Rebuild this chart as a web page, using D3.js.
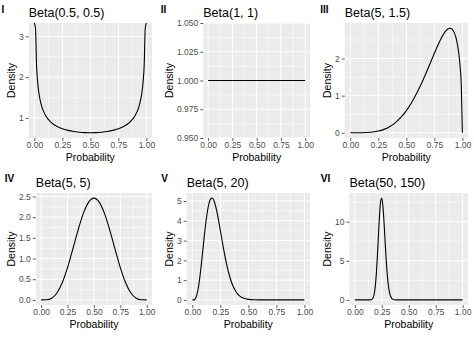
<!DOCTYPE html>
<html><head><meta charset="utf-8">
<script src="https://cdn.jsdelivr.net/npm/d3@7"></script>
<style>
html,body{margin:0;padding:0;background:#fff;}
svg{display:block;font-family:"Liberation Sans",Arial,sans-serif;}
</style></head>
<body>
<svg id="chart" width="474" height="338"></svg>
<script>
// ---------- data ----------
const romanLabels = ["I","II","III","IV","V","VI"];
const panelTitles = ["Beta(0.5, 0.5)","Beta(1, 1)","Beta(5, 1.5)","Beta(5, 5)","Beta(5, 20)","Beta(50, 150)"];
const xTicks = [0, 0.25, 0.5, 0.75, 1];

const xI = [0,0.01,0.02,0.03,0.04,0.05,0.07,0.1,0.15,0.2,0.25,0.3,0.35,0.4,0.45,0.5,0.55,0.6,0.65,0.7,0.75,0.8,0.85,0.9,0.93,0.95,0.96,0.97,0.98,0.99,1];
const yI = [Infinity,3.199,2.274,1.866,1.624,1.461,1.248,1.061,0.892,0.796,0.735,0.695,0.667,0.650,0.640,0.637,0.640,0.650,0.667,0.695,0.735,0.796,0.892,1.061,1.248,1.461,1.624,1.866,2.274,3.199,Infinity];
const yTicksI = [1,2,3];

const xII = [0,0.25,0.5,0.75,1];
const yII = [1,1,1,1,1];
const yTicksII = [0.95,0.975,1,1.025,1.05];

const xIII = [0,0.05,0.1,0.15,0.2,0.25,0.3,0.35,0.4,0.45,0.5,0.55,0.6,0.65,0.7,0.75,0.8,0.85,0.86,0.87,0.88,0.89,0.9,0.91,0.92,0.93,0.94,0.95,0.96,0.97,0.98,0.99,1];
const yIII = [0,0.0001,0.0013,0.0063,0.0194,0.0458,0.0917,0.1638,0.2684,0.4116,0.5982,0.8308,1.1094,1.4294,1.7800,2.1413,2.4793,2.7364,2.7703,2.7958,2.8118,2.8166,2.8082,2.7845,2.7426,2.6788,2.5885,2.4652,2.2992,2.0754,1.7655,1.3002,0];
const yTicksIII = [0,1,2];

const xIV = [0,0.05,0.1,0.15,0.2,0.25,0.3,0.35,0.4,0.45,0.5,0.55,0.6,0.65,0.7,0.75,0.8,0.85,0.9,0.95,1];
const yIV = [0,0.0032,0.0413,0.1665,0.4129,0.7787,1.2252,1.6876,2.0902,2.3639,2.4609,2.3639,2.0902,1.6876,1.2252,0.7787,0.4129,0.1665,0.0413,0.0032,0];
const yTicksIV = [0,0.5,1,1.5,2,2.5];

const xV = [0,0.01,0.02,0.03,0.04,0.05,0.06,0.07,0.08,0.09,0.1,0.11,0.12,0.13,0.14,0.15,0.16,0.17,0.18,0.19,0.2,0.22,0.24,0.26,0.28,0.3,0.32,0.34,0.36,0.38,0.4,0.43,0.46,0.5,0.55,0.6,0.7,0.8,0.9,1];
const yV = [0,0.0018,0.0232,0.0965,0.2505,0.5012,0.8501,1.2852,1.7853,2.3235,2.8709,3.3991,3.8841,4.3057,4.6494,4.9061,5.0722,5.1485,5.1399,5.0541,4.9005,4.4350,3.8347,3.1822,2.5430,1.9623,1.4645,1.0584,0.7414,0.5035,0.3315,0.1671,0.0783,0.0253,0.0050,0.0008,0,0,0,0];
const yTicksV = [0,1,2,3,4,5];

const xVI = [0,0.1,0.13,0.14,0.15,0.16,0.17,0.18,0.19,0.2,0.21,0.22,0.23,0.24,0.25,0.26,0.27,0.28,0.29,0.3,0.31,0.32,0.33,0.34,0.35,0.36,0.37,0.38,0.4,0.5,0.6,0.7,0.8,0.9,1];
const yVI = [0,0,0.0006,0.0043,0.0220,0.0892,0.2921,0.7899,1.7954,3.4817,5.8365,8.5464,11.033,12.662,13.005,12.027,10.066,7.660,5.3205,3.3844,1.9778,1.0645,0.5287,0.2429,0.1034,0.0408,0.0149,0.0051,0,0,0,0,0,0,0];
const yTicksVI = [0,5,10];

const panels = [
  {x:xI, y:yI, ticks:yTicksI, fmt:d3.format("d")},
  {x:xII, y:yII, ticks:yTicksII, fmt:d3.format(".3f"), fixed:[0.95,1.05]},
  {x:xIII, y:yIII, ticks:yTicksIII, fmt:d3.format("d")},
  {x:xIV, y:yIV, ticks:yTicksIV, fmt:d3.format(".1f")},
  {x:xV, y:yV, ticks:yTicksV, fmt:d3.format("d")},
  {x:xVI, y:yVI, ticks:yTicksVI, fmt:d3.format("d")}
];

// ---------- layout ----------
const svg = d3.select("#chart");
const cellW = 158;
const rows = [
  {cy:0,   top:23,  bottom:138, roman:12.5, title:16.5, tick:148, axTitle:160.5},
  {cy:169, top:193, bottom:305, roman:182, title:186.5, tick:315, axTitle:328}
];
const tickFont = 8.5, tickCol = "#4d4d4d";

panels.forEach((p, i) => {
  const col = i % 3, r = rows[Math.floor(i / 3)];
  const cx = col * cellW;
  const g = svg.append("g");

  // measure widest y tick label
  const tmp = g.append("g").attr("font-size", tickFont);
  let maxW = 0;
  p.ticks.forEach(t => {
    const tt = tmp.append("text").text(p.fmt(t));
    maxW = Math.max(maxW, tt.node().getComputedTextLength());
  });
  tmp.remove();

  const left = cx + 15 + 4 + maxW + 2 + 3;
  const right = cx + cellW - 6;

  const x = d3.scaleLinear().domain([-0.05, 1.05]).range([left, right]);
  let dom;
  if (p.fixed) dom = p.fixed;
  else {
    const fin = p.y.filter(v => isFinite(v));
    const [lo, hi] = d3.extent(fin);
    const pad = (hi - lo) * 0.05;
    dom = [lo - pad, hi + pad];
  }
  const y = d3.scaleLinear().domain(dom).range([r.bottom, r.top]).clamp(true);

  // panel background
  g.append("rect").attr("x", left).attr("y", r.top)
    .attr("width", right - left).attr("height", r.bottom - r.top).attr("fill", "#ebebeb");

  // minor grid
  const xMinor = [0.125, 0.375, 0.625, 0.875];
  const step = p.ticks[1] - p.ticks[0];
  const yMinor = [];
  for (let k = -1; k < p.ticks.length; k++) {
    const v = p.ticks[0] + step * (k + 0.5);
    if (v > dom[0] && v < dom[1]) yMinor.push(v);
  }
  g.selectAll(null).data(xMinor).join("line")
    .attr("x1", d => x(d)).attr("x2", d => x(d)).attr("y1", r.top).attr("y2", r.bottom)
    .attr("stroke", "#fff").attr("stroke-width", 0.5);
  g.selectAll(null).data(yMinor).join("line")
    .attr("y1", d => y(d)).attr("y2", d => y(d)).attr("x1", left).attr("x2", right)
    .attr("stroke", "#fff").attr("stroke-width", 0.5);
  // major grid
  g.selectAll(null).data(xTicks).join("line")
    .attr("x1", d => x(d)).attr("x2", d => x(d)).attr("y1", r.top).attr("y2", r.bottom)
    .attr("stroke", "#fff").attr("stroke-width", 1);
  g.selectAll(null).data(p.ticks).join("line")
    .attr("y1", d => y(d)).attr("y2", d => y(d)).attr("x1", left).attr("x2", right)
    .attr("stroke", "#fff").attr("stroke-width", 1);

  // axes
  const xAxis = g.append("g").attr("transform", `translate(0,${r.bottom})`)
    .call(d3.axisBottom(x).tickValues(xTicks).tickFormat(d3.format(".2f")).tickSize(3).tickPadding(2));
  const yAxis = g.append("g").attr("transform", `translate(${left},0)`)
    .call(d3.axisLeft(y).tickValues(p.ticks).tickFormat(p.fmt).tickSize(3).tickPadding(2));
  [xAxis, yAxis].forEach(a => {
    a.select(".domain").remove();
    a.selectAll(".tick line").attr("stroke", "#333").attr("stroke-width", 0.8);
    a.selectAll(".tick text").attr("fill", tickCol).attr("font-size", tickFont)
      .attr("font-family", "Liberation Sans, Arial, sans-serif");
  });
  xAxis.selectAll(".tick text").attr("dy", null).attr("y", r.tick - r.bottom).attr("dominant-baseline", null);

  // curve
  const pts = p.x.map((xv, k) => [xv, p.y[k]]);
  const line = d3.line().x(d => x(d[0])).y(d => y(d[1])).curve(d3.curveMonotoneX);
  g.append("path").attr("d", line(pts)).attr("fill", "none")
    .attr("stroke", "#000").attr("stroke-width", 1.1);

  // axis titles
  g.append("text").attr("x", (left + right) / 2).attr("y", r.axTitle)
    .attr("text-anchor", "middle").attr("font-size", 10.5).attr("fill", "#000").text("Probability");
  g.append("text").attr("transform", `translate(${cx + 15},${(r.top + r.bottom) / 2}) rotate(-90)`)
    .attr("text-anchor", "middle").attr("font-size", 10.5).attr("fill", "#000").text("Density");

  // panel title
  g.append("text").attr("x", left).attr("y", r.title)
    .attr("font-size", 12.5).attr("fill", "#000").text(panelTitles[i]);

  // roman label
  const rl = g.append("text").attr("y", r.roman).attr("font-size", 10).attr("font-weight", "bold")
    .attr("fill", "#000").text(romanLabels[i]);
  const w = rl.node().getComputedTextLength();
  rl.attr("x", cx + 0.5 * w);
});
</script>
</body></html>
